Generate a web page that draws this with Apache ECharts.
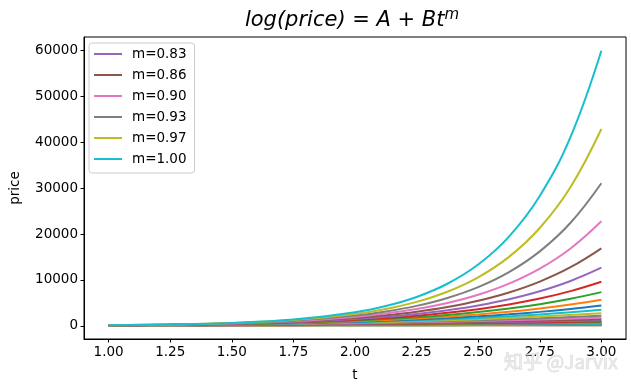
<!DOCTYPE html>
<html>
<head>
<meta charset="utf-8">
<script src="https://cdn.jsdelivr.net/npm/echarts@6/dist/echarts.min.js"></script>
<style>html,body{margin:0;padding:0;background:#fff;}#c{width:631px;height:390px;}</style>
</head>
<body>
<div id="c"></div>
<script>
// t sample points (coarse for low-m curves, denser for the steep high-m curves)
const tCoarse = [1.0, 1.25, 1.5, 1.75, 2.0, 2.25, 2.5, 2.75, 3.0];
const tDense  = [1.0, 1.25, 1.5, 1.75, 2.0, 2.125, 2.25, 2.375, 2.5, 2.625, 2.75, 2.875, 3.0];
const xTicks = [1.0, 1.25, 1.5, 1.75, 2.0, 2.25, 2.5, 2.75, 3.0];
const yTicks = [0, 10000, 20000, 30000, 40000, 50000, 60000];
const mLabels = ['0.00','0.03','0.07','0.10','0.14','0.17','0.21','0.24','0.28','0.31',
                 '0.34','0.38','0.41','0.45','0.48','0.52','0.55','0.59','0.62','0.66',
                 '0.69','0.72','0.76','0.79','0.83','0.86','0.90','0.93','0.97','1.00'];
const legendShown = ['m=0.83','m=0.86','m=0.90','m=0.93','m=0.97','m=1.00'];
const palette = ['#1f77b4','#ff7f0e','#2ca02c','#d62728','#9467bd','#8c564b','#e377c2','#7f7f7f','#bcbd22','#17becf'];

// price values (coarse t grid)
const p00 = [148, 148, 148, 148, 148, 148, 148, 148, 148];
const p01 = [148, 152, 155, 157, 160, 162, 163, 165, 167];
const p02 = [148, 156, 162, 167, 172, 176, 181, 184, 188];
const p03 = [148, 159, 169, 178, 186, 193, 200, 207, 213];
const p04 = [148, 163, 176, 189, 201, 212, 222, 233, 243];
const p05 = [148, 167, 184, 201, 217, 233, 248, 263, 277];
const p06 = [148, 171, 193, 215, 236, 257, 278, 298, 319];
const p07 = [148, 175, 202, 229, 256, 284, 312, 340, 369];
const p08 = [148, 180, 212, 245, 279, 315, 352, 390, 429];
const p09 = [148, 184, 222, 262, 305, 350, 398, 449, 502];
const p10 = [148, 189, 233, 281, 334, 391, 453, 519, 591];
const p11 = [148, 193, 244, 302, 366, 437, 516, 604, 700];
const p12 = [148, 198, 257, 324, 402, 491, 592, 706, 834];
const p13 = [148, 204, 270, 349, 443, 553, 681, 830, 1001];
const p14 = [148, 209, 284, 376, 489, 625, 788, 981, 1210];
const p15 = [148, 214, 299, 406, 541, 709, 915, 1167, 1474];
const p16 = [148, 220, 315, 439, 600, 807, 1068, 1397, 1808];
const p17 = [148, 226, 332, 476, 668, 921, 1253, 1683, 2236];
const p18 = [148, 232, 350, 516, 745, 1056, 1477, 2040, 2788];
const p19 = [148, 238, 370, 560, 832, 1216, 1751, 2491, 3505];
// dense t grid
const p20 = [148, 245, 391, 610, 933, 1148, 1405, 1716, 2087, 2532, 3063, 3695, 4446];
const p21 = [148, 251, 413, 665, 1049, 1311, 1631, 2023, 2502, 3085, 3794, 4653, 5693];
const p22 = [148, 258, 437, 725, 1183, 1502, 1901, 2398, 3016, 3784, 4734, 5909, 7358];
const p23 = [148, 265, 463, 793, 1337, 1728, 2225, 2857, 3658, 4673, 5955, 7572, 9606];
const p24 = [148, 273, 491, 869, 1516, 1994, 2616, 3422, 4465, 5813, 7552, 9791, 12670];
const p25 = [148, 280, 521, 953, 1724, 2311, 3089, 4120, 5484, 7284, 9658, 12783, 16890];
const p26 = [148, 288, 553, 1048, 1968, 2689, 3666, 4990, 6779, 9198, 12460, 16854, 22767];
const p27 = [148, 297, 588, 1154, 2253, 3140, 4371, 6078, 8440, 11706, 16221, 22453, 31048];
const p28 = [148, 305, 625, 1274, 2587, 3683, 5239, 7447, 10580, 15022, 21315, 30228, 42848];
const p29 = [148, 314, 665, 1408, 2981, 4337, 6310, 9182, 13360, 19438, 28283, 41151, 59874];

const priceSeries = [p00,p01,p02,p03,p04,p05,p06,p07,p08,p09,p10,p11,p12,p13,p14,
                     p15,p16,p17,p18,p19,p20,p21,p22,p23,p24,p25,p26,p27,p28,p29];

const FONT = 'DejaVu Sans';
const series = priceSeries.map((vals, i) => {
  const ts = vals.length === tDense.length ? tDense : tCoarse;
  return {
    name: 'm=' + mLabels[i],
    type: 'line',
    data: vals.map((v, k) => [ts[k], v]),
    smooth: 0.4,
    symbol: 'none',
    color: palette[i % 10],
    lineStyle: { width: 2, color: palette[i % 10] },
    z: 2 + i * 0.01
  };
});

const chart = echarts.init(document.getElementById('c'), null, { renderer: 'canvas' });
chart.setOption({
  animation: false,
  backgroundColor: '#fff',
  grid: { left: 82, right: 5, top: 37, bottom: 51, show: true, borderColor: '#000', borderWidth: 1, backgroundColor: 'transparent' },
  xAxis: {
    type: 'value', min: 0.9, max: 3.1,
    name: 't', nameLocation: 'middle', nameGap: 29,
    nameTextStyle: { fontFamily: FONT, fontSize: 13.5, color: '#000' },
    axisLine: { show: true, onZero: false, lineStyle: { color: '#000', width: 1 } },
    axisTick: { show: true, length: 3.5, lineStyle: { color: '#000' }, customValues: xTicks },
    axisLabel: { color: '#000', fontFamily: FONT, fontSize: 13.5, margin: 6, customValues: xTicks,
                 formatter: v => v.toFixed(2) },
    splitLine: { show: false }
  },
  yAxis: {
    type: 'value', min: -2838, max: 62860,
    name: 'price', nameLocation: 'middle', nameGap: 62,
    nameTextStyle: { fontFamily: FONT, fontSize: 13.5, color: '#000' },
    axisLine: { show: true, onZero: false, lineStyle: { color: '#000', width: 1 } },
    axisTick: { show: true, length: 3.5, lineStyle: { color: '#000' }, customValues: yTicks },
    axisLabel: { color: '#000', fontFamily: FONT, fontSize: 13.5, margin: 6, customValues: yTicks,
                 formatter: v => String(Math.round(v)) },
    splitLine: { show: false }
  },
  legend: {
    data: legendShown,
    orient: 'vertical',
    left: 89, top: 43,
    icon: 'rect', itemWidth: 28, itemHeight: 2,
    itemGap: 5,
    padding: [3, 8, 6, 5],
    backgroundColor: 'rgba(255,255,255,0.8)',
    borderColor: '#cccccc', borderWidth: 1, borderRadius: 3,
    textStyle: { fontFamily: FONT, fontSize: 13.5, color: '#000', lineHeight: 16, padding: [0, 0, 0, 5] }
  },
  graphic: [
    {
      type: 'text', x: 352, y: 21, z: 100,
      style: {
        text: '{i|log(price)}{n| = }{i|A}{n| + }{i|Bt}{s|m}',
        align: 'center', verticalAlign: 'middle',
        rich: {
          i: { fontFamily: FONT, fontStyle: 'italic', fontSize: 21, fill: '#000' },
          n: { fontFamily: FONT, fontSize: 21, fill: '#000' },
          s: { fontFamily: FONT, fontStyle: 'italic', fontSize: 15, fill: '#000', padding: [0, 0, 12, 0] }
        }
      }
    },
    {
      type: 'text', x: 504, y: 362, z: 100,
      style: {
        text: '知乎 @Jarvix', fontFamily: 'Noto Sans CJK SC', fontSize: 19,
        fill: 'rgba(230,230,230,0.85)', stroke: 'rgba(170,170,170,0.5)', lineWidth: 0.6,
        verticalAlign: 'middle'
      }
    }
  ],
  series: series
});
</script>
</body>
</html>
